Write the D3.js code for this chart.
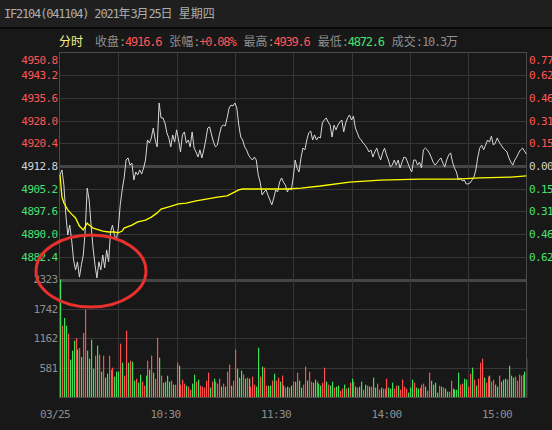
<!DOCTYPE html>
<html><head><meta charset="utf-8">
<script src="https://cdn.jsdelivr.net/npm/d3@7"></script>
<style>
html,body{margin:0;padding:0;background:#181818;overflow:hidden}
svg{display:block}
</style></head><body>
<svg id="c" width="552" height="430"></svg>
<script>
// ---------------- data ----------------
const title = "IF2104(041104) 2021年3月25日 星期四";
const prevClose = 4912.8;
const priceTicks = [4950.8,4943.2,4935.6,4928.0,4920.4,4912.8,4905.2,4897.6,4890.0,4882.4,4874.8];
const pctTicks = ["0.77","0.62","0.46","0.31","0.15","0.00","0.15","0.31","0.46","0.62"];
const volTicks = [2323,1742,1162,581,0];
const timeLabels = ["03/25","10:30","11:30","14:00","15:00"];
const minuteTicks = [0,30,60,90,120,150,180,210,240];
const headerLabels = ["分时","收盘:","张幅:","最高:","最低:","成交:"];
const headerValues = ["","4916.6","+0.08%","4939.6","4872.6","10.3万"];
const headerValueKinds = ["","up","up","up","down","plain"];

const prices = [
4909.8,4911.5,4906.4,4896.4,4889.7,4893.0,4888.0,4881.3,4878.0,4880.7,
4875.6,4879.7,4883.0,4891.4,4905.4,4901.4,4893.0,4885.4,4879.7,4875.3,
4880.7,4878.0,4883.0,4878.7,4884.7,4880.7,4890.7,4893.0,4889.7,4888.0,
4892.0,4899.8,4904.8,4908.8,4914.8,4915.5,4913.1,4913.8,4908.1,4910.8,
4909.8,4911.5,4910.1,4912.1,4914.8,4921.5,4920.5,4922.2,4925.5,4921.5,
4919.2,4933.9,4928.9,4928.9,4927.2,4923.9,4922.2,4919.2,4923.2,4920.8,
4924.9,4921.5,4917.5,4923.2,4924.2,4920.5,4921.5,4919.2,4924.2,4918.8,
4917.5,4915.8,4918.2,4915.5,4918.2,4921.5,4925.5,4925.9,4923.2,4920.8,
4919.2,4919.8,4923.2,4925.9,4926.5,4926.2,4928.9,4932.2,4933.2,4932.9,
4933.9,4932.2,4926.5,4922.5,4921.5,4919.2,4918.2,4916.5,4915.5,4914.8,
4915.8,4914.8,4909.8,4907.4,4903.1,4904.1,4904.8,4903.1,4901.4,4899.8,
4902.1,4904.8,4904.1,4907.4,4908.8,4907.4,4906.4,4904.1,4905.4,4904.8,
4908.8,4914.8,4912.1,4910.8,4915.5,4918.8,4918.2,4921.5,4923.9,4924.5,
4921.5,4923.2,4921.5,4922.5,4922.2,4927.2,4928.2,4928.9,4927.5,4926.5,
4922.5,4926.5,4924.9,4926.5,4927.5,4928.2,4924.2,4927.2,4928.9,4929.9,
4928.2,4929.5,4925.5,4923.9,4922.2,4921.5,4920.5,4919.8,4918.8,4917.5,
4918.2,4915.8,4917.5,4918.8,4916.5,4914.8,4917.2,4918.8,4916.5,4914.8,
4912.5,4913.1,4914.8,4913.1,4914.8,4912.1,4914.1,4915.8,4915.5,4913.8,
4912.1,4910.8,4914.8,4914.8,4913.1,4914.1,4912.1,4918.2,4918.8,4918.2,
4917.2,4915.8,4914.1,4913.1,4913.8,4914.8,4915.5,4913.8,4912.5,4914.8,
4916.5,4917.2,4914.1,4912.1,4910.8,4908.1,4908.8,4907.8,4908.1,4906.8,
4906.8,4907.1,4908.1,4909.1,4911.5,4915.8,4918.8,4919.8,4918.2,4919.8,
4921.5,4920.8,4922.8,4919.8,4920.5,4922.2,4920.8,4919.8,4918.8,4918.2,
4917.5,4915.5,4914.1,4913.1,4914.8,4915.8,4917.2,4918.2,4918.8,4917.8,
4916.8];

const avgMinutes = [0,1,2,4,6,8,10,12,14,15,17,20,22,25,28,30,32,33,37,40,44,47,50,52,56,61,65,70,76,81,86,89,92,94,103,117,124,134,149,165,185,204,216,232,240];
const avgPrices  = [4909.8,4902.4,4900.4,4898.1,4896.7,4895.4,4892.7,4891.4,4893.7,4893.0,4892.0,4891.4,4891.0,4890.7,4890.7,4890.4,4891.0,4892.0,4893.0,4894.1,4894.7,4895.7,4897.1,4898.4,4899.1,4900.1,4900.4,4901.1,4901.8,4902.4,4902.8,4903.8,4904.8,4905.1,4905.1,4905.1,4905.4,4906.1,4907.4,4908.1,4908.4,4908.4,4908.8,4909.1,4909.5];

const volumes = [
2323,1410,1562,1410,1252,738,916,1114,1166,936,
969,791,1265,1727,916,758,1133,560,817,1015,
837,501,817,382,461,817,540,580,402,501,
501,1054,679,422,1311,679,718,699,323,362,
283,442,303,224,422,718,540,817,481,362,
1173,778,422,283,303,422,303,323,244,244,
679,619,244,343,264,224,204,145,264,442,
303,343,224,204,185,323,481,185,303,362,
303,264,362,204,264,204,501,639,224,323,
936,560,382,521,442,362,382,362,204,402,
244,204,975,402,600,580,224,224,224,323,
461,323,382,303,422,224,185,204,185,224,
303,303,481,323,185,244,600,323,501,303,
283,343,303,264,224,283,580,303,244,224,
303,185,204,224,125,165,244,165,185,283,
362,303,204,185,204,303,145,244,224,204,
204,382,185,264,145,185,165,165,362,185,
165,283,165,224,224,145,343,204,165,86,
185,343,283,185,165,185,244,264,204,125,
481,323,244,283,86,224,204,185,165,105,
105,323,165,145,145,481,244,264,362,343,
204,461,580,343,224,362,679,758,382,283,
402,422,303,343,244,204,422,303,343,362,
343,619,422,382,402,323,442,422,442,501,
758];
const volColors =
"GRGGRGGGRG"+"RGRRGGGGRG"+"RGRGGRRRGG"+"GRGRRGRGGR"+"GGRRGRGRGR"+
"RGRGGGGRGR"+"RGRRRGRRGG"+"RGRRRRRGRG"+"RRRGRGRRGR"+"RGGGRGRGRR"+
"RGGRGRRGGR"+"GRRGRGRGRG"+"RGRGGRRGRR"+"GGRGGRRGRG"+"GRGGRRGRGR"+
"GRGRGGRGRG"+"RGGRRGRRRG"+"GGRRGRRRRG"+"GGRGGRRRGR"+"RGGGGRGRGG"+
"RRGGGGRRGG"+"RRGRGRRRGR"+"RGRRGGRGGG"+"RGGGRRRRRG"+"G";

// ---------------- style ----------------
const C = {
  bg:"#181818", titleBg:"#1f1f1f", sep:"#090909",
  grid:"#363636", thick:"#454545", frame:"#4a4a4a",
  red:"#ff5656", green:"#4be070", flat:"#d2d2d2", axis:"#8e8e8e",
  title:"#adadad", yellowTxt:"#f4f08a",
  price:"#d6d6d6", avg:"#ffff00",
  barRed:"#ff4f4f", barGreen:"#3ee05a", circle:"#e8302c"
};
const MONO = "'DejaVu Sans Mono', monospace";
const CJK = "'Noto Sans CJK SC', sans-serif";

const svg = d3.select("#c");
const W = 552, H = 430;
const L = 60, R = 526.4, T = 52.5, MID = 279.5, B = 397;

const x = d3.scaleLinear().domain([0,240]).range([L,R]);
const y = d3.scaleLinear().domain([4874.8,4950.8]).range([MID,T]);
const yv = d3.scaleLinear().domain([0,2323]).range([B,MID]);
const xl = d3.scalePoint().domain(timeLabels).range([55,497]);
const px = v => Math.round(v) + 0.5;

// mixed run text helper
function runs(sel, str, size, monoSpacing){
  (str.match(/[\x00-\x7f]+|[^\x00-\x7f]+/g)||[]).forEach(r=>{
    const ascii = /^[\x00-\x7f]+$/.test(r);
    sel.append("tspan").text(r)
      .attr("font-family", ascii?MONO:CJK)
      .attr("letter-spacing", ascii?monoSpacing:0);
  });
  sel.attr("font-size", size);
  return sel;
}

// backgrounds
svg.append("rect").attr("width",W).attr("height",H).attr("fill",C.bg);
svg.append("rect").attr("width",W).attr("height",27).attr("fill",C.titleBg);
svg.append("rect").attr("y",27).attr("width",W).attr("height",2).attr("fill",C.sep);

// title
runs(svg.append("text").attr("x",4).attr("y",14).attr("dy","0.36em").attr("fill",C.title).style("white-space","pre"),
  title, 12, -1.2);

// header row
let hx = 59;
headerLabels.forEach((lab,i)=>{
  const t = svg.append("text").attr("x",hx).attr("y",42).attr("dy","0.36em").style("white-space","pre");
  const lt = runs(t, lab, 12, -1.2);
  lt.selectAll("tspan").attr("fill", i===0?C.yellowTxt:"#8f8f8f");
  if(headerValues[i]){
    const k = headerValueKinds[i];
    const col = k==="up"?C.red:(k==="down"?C.green:"#8f8f8f");
    (headerValues[i].match(/[\x00-\x7f]+|[^\x00-\x7f]+/g)).forEach(r=>{
      const ascii = /^[\x00-\x7f]+$/.test(r);
      t.append("tspan").text(r).attr("fill",col)
        .attr("font-family", ascii?MONO:CJK)
        .attr("letter-spacing", ascii?-1.2:0);
    });
  }
  hx += t.node().getComputedTextLength() + (i===0?12:8);
});

// grid: horizontal price lines
const g = svg.append("g");
priceTicks.forEach(v=>{
  if(v===4950.8) return;
  const thick = (v===prevClose || v===4874.8);
  g.append("line").attr("x1",L).attr("x2",R).attr("y1",px(y(v))).attr("y2",px(y(v)))
   .attr("stroke", thick?C.thick:C.grid).attr("stroke-width", thick?3:1);
});
volTicks.forEach(v=>{
  if(v===2323||v===0) return;
  g.append("line").attr("x1",L).attr("x2",R).attr("y1",px(yv(v))).attr("y2",px(yv(v)))
   .attr("stroke",C.grid).attr("stroke-width",1);
});
minuteTicks.forEach(m=>{
  if(m===0||m===240) return;
  g.append("line").attr("x1",px(x(m))).attr("x2",px(x(m))).attr("y1",T).attr("y2",B)
   .attr("stroke",C.grid).attr("stroke-width",1);
});

// volume bars
svg.append("g").selectAll("rect").data(volumes).join("rect")
  .attr("x",(d,i)=>Math.round(x(i)))
  .attr("width",1.2)
  .attr("y",d=>yv(d))
  .attr("height",d=>B-yv(d))
  .attr("fill",(d,i)=>volColors[i]==="R"?C.barRed:C.barGreen);

// frame
svg.append("rect").attr("x",px(L)-1).attr("y",T).attr("width",px(R)-px(L)+1).attr("height",B-T+0.5)
  .attr("fill","none").attr("stroke",C.frame).attr("stroke-width",1);

// price line
svg.append("path").datum(prices)
  .attr("d", d3.line().x((d,i)=>x(i)).y(d=>y(d)))
  .attr("fill","none").attr("stroke",C.price).attr("stroke-width",1);

// average line
svg.append("path").datum(avgPrices)
  .attr("d", d3.line().x((d,i)=>x(avgMinutes[i])).y(d=>y(d)))
  .attr("fill","none").attr("stroke",C.avg).attr("stroke-width",1.3);

// left price labels
const lab = svg.append("g").attr("font-family",MONO).attr("font-size",11).attr("letter-spacing",-0.6);
priceTicks.slice(0,10).forEach((v,i)=>{
  const yy = Math.max(y(v), 60);
  const col = v>prevClose?C.red:(v<prevClose?C.green:C.flat);
  lab.append("text").attr("x",57.5).attr("y",yy).attr("dy","0.36em").attr("text-anchor","end")
    .attr("fill",col).text(v.toFixed(1));
  lab.append("text").attr("x",529).attr("y",yy).attr("dy","0.36em").attr("text-anchor","start")
    .attr("fill",col).text(pctTicks[i]);
});
volTicks.slice(0,4).forEach(v=>{
  lab.append("text").attr("x",57.5).attr("y",yv(v)).attr("dy","0.36em").attr("text-anchor","end")
    .attr("fill",C.axis).text(v);
});
timeLabels.forEach(t=>{
  lab.append("text").attr("x",xl(t)).attr("y",414).attr("dy","0.36em").attr("text-anchor","middle")
    .attr("fill",C.axis).text(t);
});

// annotation circle
svg.append("ellipse").attr("cx",91).attr("cy",271).attr("rx",55).attr("ry",36)
  .attr("fill","none").attr("stroke",C.circle).attr("stroke-width",3);
</script>
</body></html>
